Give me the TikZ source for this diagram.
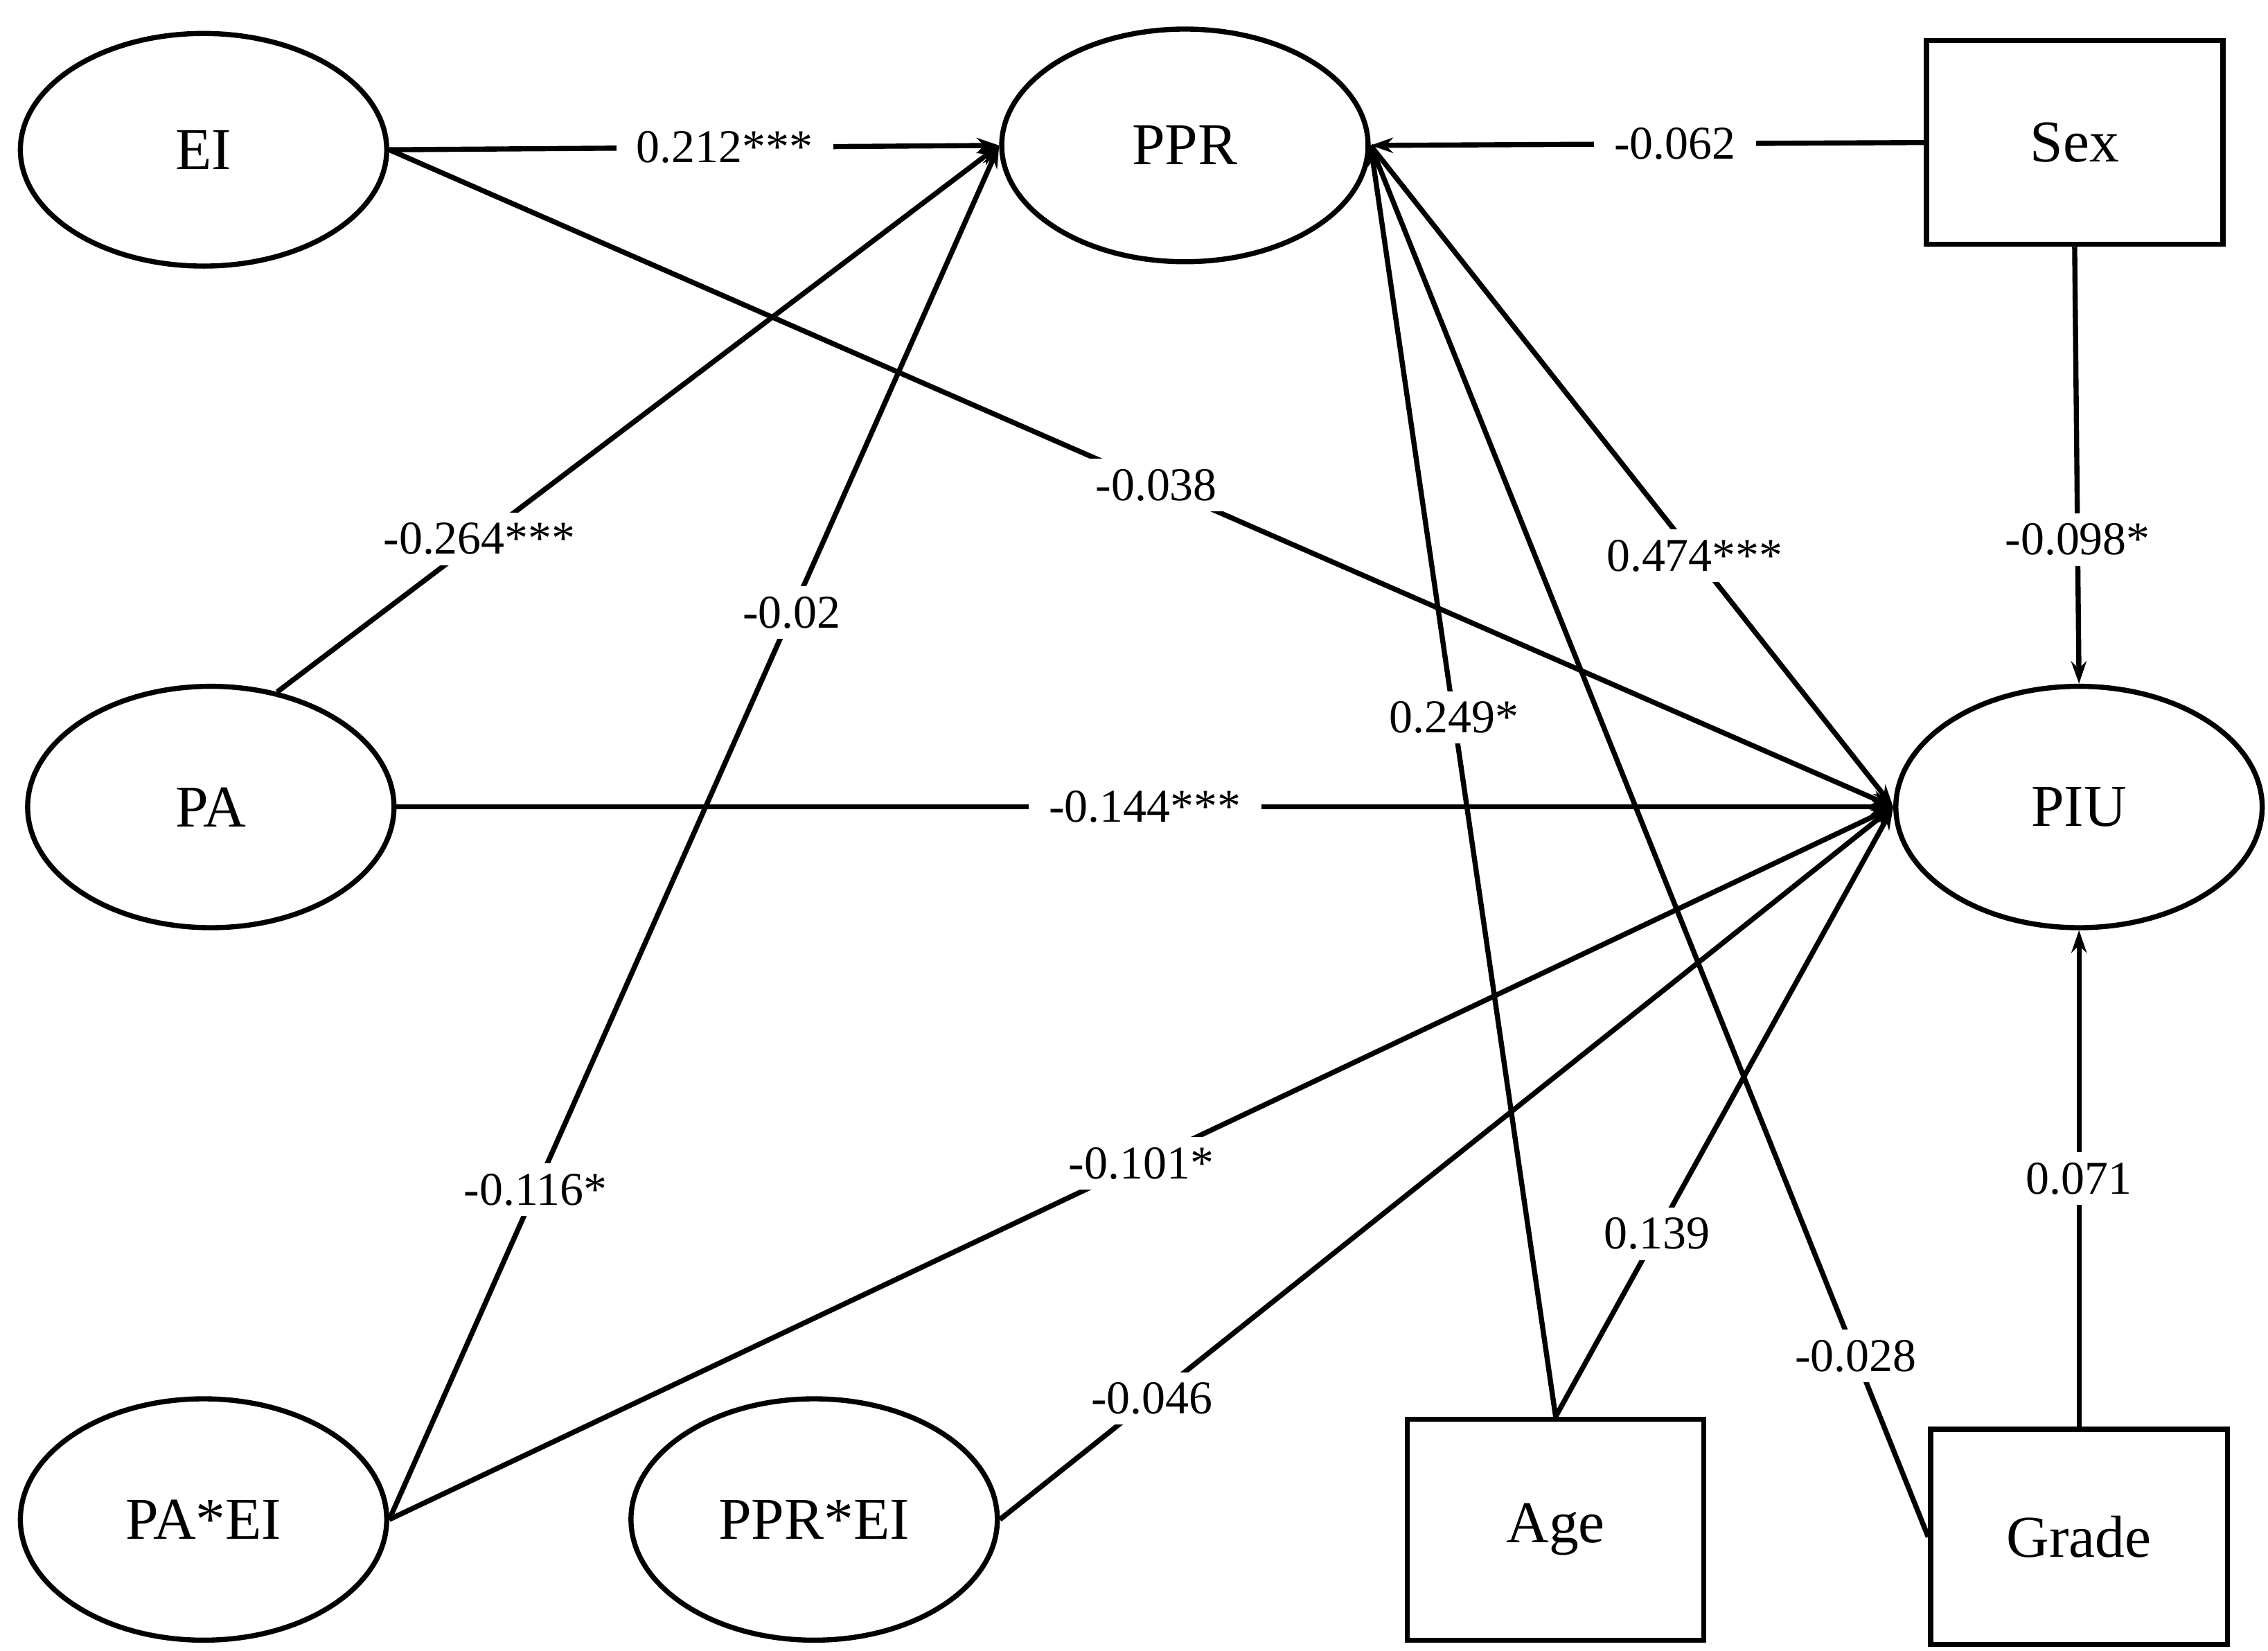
\documentclass[tikz,border=0pt]{standalone}
\usepackage{fontspec}
\setmainfont{Liberation Serif}
\usetikzlibrary{arrows.meta,shapes.geometric}
\begin{document}
\begin{tikzpicture}[x=0.05cm,y=-0.05cm,line width=5pt,
 el/.style={draw,ellipse,minimum width=12.6cm,minimum height=8.0cm,font=\fontsize{58}{64}\selectfont},
 bx/.style={draw,rectangle,minimum width=10.2cm,minimum height=7.0cm,font=\fontsize{58}{64}\selectfont},
 lb/.style={fill=white,inner xsep=0.7cm,inner ysep=10pt,font=\fontsize{46}{52}\selectfont},
 ar/.style={-{Stealth[length=22pt,width=15pt]}}]
\useasboundingbox (0,0) rectangle (1560,1135);
\node[el] (ei) at (140,103) {EI};
\node[el] (ppr) at (815,100) {PPR};
\node[bx] (sex) at (1427,98) {Sex};
\node[el,minimum height=8.3cm] (pa) at (145,555) {PA};
\node[el,minimum height=8.3cm] (piu) at (1430,555) {PIU};
\node[el,minimum height=8.3cm] (paei) at (140,1045) {PA*EI};
\node[el,minimum height=8.3cm] (pprei) at (560,1045) {PPR*EI};
\node[bx,minimum height=7.6cm] (age) at (1070,1052) {Age};
\node[bx,minimum height=7.4cm] (grade) at (1430,1057) {Grade};
\draw[ar] (ei.east) -- node[lb,pos=0.55]{0.212***} (ppr.west);
\draw[ar] (sex.west) -- node[lb,pos=0.45]{-0.062} (ppr.east);
\draw[ar] (pa.60) -- node[lb,pos=0.28]{-0.264***} (ppr.west);
\draw[ar] (paei.east) -- node[lb,pos=0.24]{-0.116*} node[lb,pos=0.66]{-0.02} (ppr.west);
\draw[ar] (ei.east) -- node[lb,pos=0.51]{-0.038} (piu.west);
\draw[ar] (pa.east) -- node[lb,pos=0.5]{-0.144***} (piu.west);
\draw[ar] (ppr.east) -- node[lb,pos=0.62]{0.474***} (piu.west);
\draw[ar] (sex.south) -- node[lb,pos=0.67]{-0.098*} (piu.north);
\draw[ar] (age.north) -- node[lb,pos=0.55]{0.249*} (ppr.east);
\draw[ar] (grade.west) -- node[lb,pos=0.13]{-0.028} (ppr.east);
\draw[ar] (age.north) -- node[lb,pos=0.3]{0.139} (piu.west);
\draw[ar] (paei.east) -- node[lb,pos=0.5]{-0.101*} (piu.west);
\draw[ar] (pprei.east) -- node[lb,pos=0.17]{-0.046} (piu.west);
\draw[ar] (grade.north) -- node[lb,pos=0.5]{0.071} (piu.south);
\end{tikzpicture}
\end{document}
